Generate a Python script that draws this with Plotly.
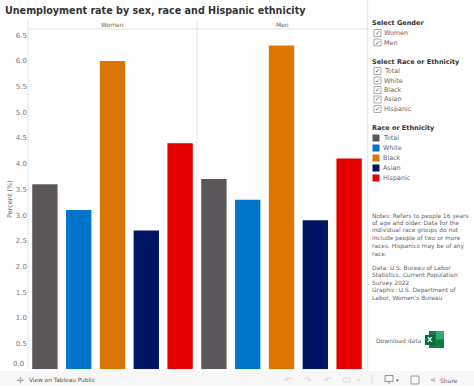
import plotly.graph_objects as go

W, H = 474, 387
TITLE = "Unemployment rate by sex, race and Hispanic ethnicity"
genders = ["Women", "Men"]
races = ["Total", "White", "Black", "Asian", "Hispanic"]
women = [3.6, 3.1, 6.0, 2.7, 4.4]
men = [3.7, 3.3, 6.3, 2.9, 4.1]
colors = ["#5b5659", "#0075c9", "#dc7600", "#001464", "#e50000"]
yticks = [0.5, 1.0, 1.5, 2.0, 2.5, 3.0, 3.5, 4.0, 4.5, 5.0, 5.5, 6.0, 6.5]
notes = ["Notes: Refers to people 16 years", "of age and older. Data for the", "individual race groups do not",
         "include people of two or more", "races. Hispanics may be of any", "race."]
source = ["Data: U.S. Bureau of Labor", "Statistics, Current Population", "Survey 2022",
          "Graphic: U.S. Department of", "Labor, Women's Bureau"]

FONT = "DejaVu Sans"
GREY = "#666666"
fx = lambda p: p / W
fy = lambda p: 1 - p / H

fig = go.Figure()
for ax, vals in (("x", women), ("x2", men)):
    for r, v, c in zip(races, vals, colors):
        fig.add_bar(x=[r], y=[v], name=r, marker=dict(color=c, line_width=0), width=0.75,
                    xaxis=ax, yaxis="y", showlegend=False)

shapes, ann = [], []

def text(x, y, s, size=7.5, color=GREY, bold=False, anchor="left"):
    off = -1.5 if anchor == "left" else 0
    ann.append(dict(xref="paper", yref="paper", x=fx(x + off), y=fy(y), text=f"<b>{s}</b>" if bold else s,
                    showarrow=False, xanchor=anchor, yanchor="middle",
                    font=dict(family=FONT, size=size, color=color)))

def rect(x0, y0, x1, y1, fill=None, line=None, lw=1):
    shapes.append(dict(type="rect", xref="paper", yref="paper", x0=fx(x0), x1=fx(x1), y0=fy(y0), y1=fy(y1),
                       fillcolor=fill or "rgba(0,0,0,0)", line=dict(color=line or "rgba(0,0,0,0)", width=lw if line else 0)))

def hline(x0, y0, x1, y1, color="#e4e4e4", lw=1):
    shapes.append(dict(type="line", xref="paper", yref="paper", x0=fx(x0), x1=fx(x1), y0=fy(y0), y1=fy(y1),
                       line=dict(color=color, width=lw)))

# chart frame
hline(28, 20, 28, 369)
hline(197, 20, 197, 369)
hline(28, 29, 367, 29)
hline(367.5, 0, 367.5, 371, "#ececec", 1.5)

text(4, 10, TITLE, size=9.6, color="#333333", bold=True)
text(112, 24.5, genders[0], size=6, anchor="center")
text(282, 24.5, genders[1], size=6, anchor="center")
text(25.5, 364, "0.0", size=7, color="#777777", anchor="right")
ann.append(dict(xref="paper", yref="paper", x=fx(10), y=fy(199), text="Percent (%)", textangle=-90, showarrow=False,
                xanchor="center", yanchor="middle", font=dict(family=FONT, size=6.5, color=GREY)))

def checks(y, items, step=9.5):
    for i, s in enumerate(items):
        yy = y + i * step
        rect(374, yy - 3.5, 381, yy + 3.5, "#ffffff", "#8a8a8a", 0.7)
        text(377.5, yy, "✓", size=6.5, color="#555555", anchor="center")
        text(383.5, yy, s, size=6.4)

text(371.5, 23.5, "Select Gender", size=6.5, color="#333333", bold=True)
checks(33, genders)
text(371.5, 61.5, "Select Race or Ethnicity", size=6.5, color="#333333", bold=True)
checks(71, races)
text(371.5, 128, "Race or Ethnicity", size=6.5, color="#333333", bold=True)
for i, (r, c) in enumerate(zip(races, colors)):
    yy = 138 + i * 10
    rect(372.5, yy - 3.5, 379.5, yy + 3.5, c)
    text(382, yy, r, size=6.4)

for i, s in enumerate(notes):
    text(371.5, 216 + i * 7.5, s, size=5.9)
for i, s in enumerate(source):
    text(371.5, 268 + i * 7.5, s, size=5.9)
text(375, 340.5, "Download data", size=6.0)

# excel badge
rect(429, 331, 444, 348, "#107c41")
rect(436, 331, 444, 339.5, "#33a96b")
rect(425, 335, 435, 345, "#0b6b38")
text(430, 340, "X", size=7, color="#ffffff", bold=True, anchor="center")

# toolbar
rect(0, 371, W, 385, "#f7f7f7")
text(28, 380, "View on Tableau Public", size=5.8, color="#555555")
text(20.5, 380, "✢", size=8, color="#888888", anchor="center")
text(288, 380, "↶", size=9, color="#d6d6d6", anchor="center")
text(308, 380, "↷", size=9, color="#d6d6d6", anchor="center")
text(328, 380, "↶", size=9, color="#d6d6d6", anchor="center")
rect(343, 378, 350, 382, None, "#d6d6d6", 0.8)
text(358, 380, "▾", size=5, color="#d6d6d6", anchor="center")
hline(372, 375, 372, 385, "#d8d8d8", 0.8)
rect(385, 375.5, 393, 381.5, None, "#777777", 0.8)
hline(389, 381.5, 389, 384, "#777777", 0.8)
text(397, 380, "▾", size=5, color="#555555", anchor="center")
rect(411, 376, 419, 384, None, "#888888", 0.8)
text(433, 380, "⋖", size=7, color="#888888", anchor="center")
text(449, 380, "Share", size=6, color="#666666", anchor="center")

ydom = [fy(369.3), fy(29)]
fig.update_layout(
    width=W, height=H, autosize=False, margin=dict(l=0, r=0, t=0, b=0),
    paper_bgcolor="white", plot_bgcolor="white", bargap=0.25,
    shapes=shapes, annotations=ann,
    xaxis=dict(domain=[fx(28), fx(197)], categoryorder="array", categoryarray=races, showticklabels=False,
               ticks="", showgrid=False, zeroline=False, showline=False),
    xaxis2=dict(domain=[fx(197), fx(366)], categoryorder="array", categoryarray=races, showticklabels=False,
                ticks="", showgrid=False, zeroline=False, showline=False, anchor="y"),
    yaxis=dict(domain=ydom, range=[0, (369.3 - 29) / 51.4], tickvals=yticks, ticktext=[f"{t:.1f}" for t in yticks],
               showgrid=False, zeroline=False, showline=False, ticks="",
               tickfont=dict(family=FONT, size=7, color="#777777")),
)
fig.write_html("out.html", config={"displayModeBar": False},
               post_script="document.body.style.margin='0';document.body.style.overflow='hidden';")
